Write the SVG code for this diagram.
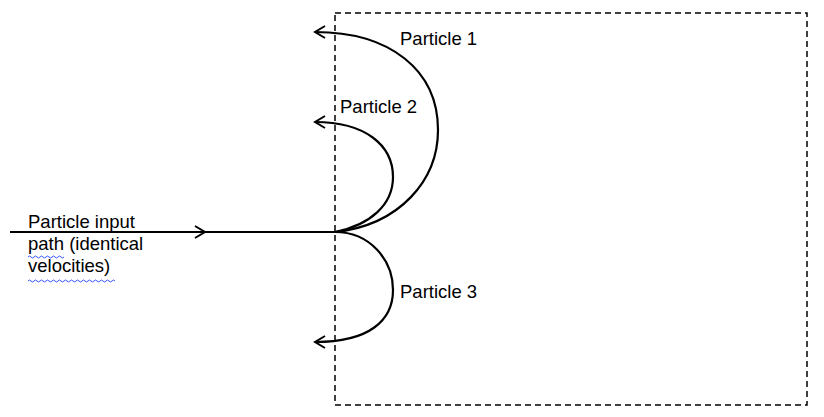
<svg xmlns="http://www.w3.org/2000/svg" width="824" height="417" viewBox="0 0 824 417">
<style>
.t{font-family:"Liberation Sans",Arial,sans-serif;font-size:18.5px;fill:#000}
.c{fill:none;stroke:#000;stroke-width:2.2}
.h{fill:none;stroke:#000;stroke-width:2}
.w{fill:none;stroke:#3355ff;stroke-width:1}
</style>
<rect width="824" height="417" fill="#fff"/>
<g id="box"><rect x="335" y="13" width="472" height="392" fill="none" stroke="#000" stroke-width="1.5" stroke-dasharray="6,4"/></g>
<g id="connectors">
<path class="c" d="M10,232 H335"/>
<path class="h" d="M195,226 L205,232 L195,238"/>
<path class="c" d="M335,232 C400,225 438,180 438,130 C438,70 390,32 315,32"/>
<path class="h" d="M325,26 L315,32 L325,38"/>
<path class="c" d="M335,232 C370,225 393,205 393,177 C393,145 365,122 315,122"/>
<path class="h" d="M325,116 L315,122 L325,128"/>
<path class="c" d="M335,232 C370,232 393,260 393,290 C393,320 370,342 315,342"/>
<path class="h" d="M325,336 L315,342 L325,348"/>
</g>
<g id="labels">
<text class="t" x="400" y="45">Particle 1</text>
<text class="t" x="340" y="113">Particle 2</text>
<text class="t" x="400" y="298">Particle 3</text>
<text class="t" x="28" y="228">Particle input</text>
<text class="t" x="28" y="250">path (identical</text>
<text class="t" x="28" y="272">velocities)</text>
<path class="w" d="M28,257 q1.5,-2 3,0 t3,0 t3,0 t3,0 t3,0 t3,0 t3,0 t3,0 t3,0 t3,0 t3,0 t3,0"/>
<path class="w" d="M28,281 q1.5,-2 3,0 t3,0 t3,0 t3,0 t3,0 t3,0 t3,0 t3,0 t3,0 t3,0 t3,0 t3,0 t3,0 t3,0 t3,0 t3,0 t3,0 t3,0 t3,0 t3,0 t3,0 t3,0 t3,0 t3,0 t3,0 t3,0 t3,0 t3,0 t3,0"/>
</g>
</svg>
